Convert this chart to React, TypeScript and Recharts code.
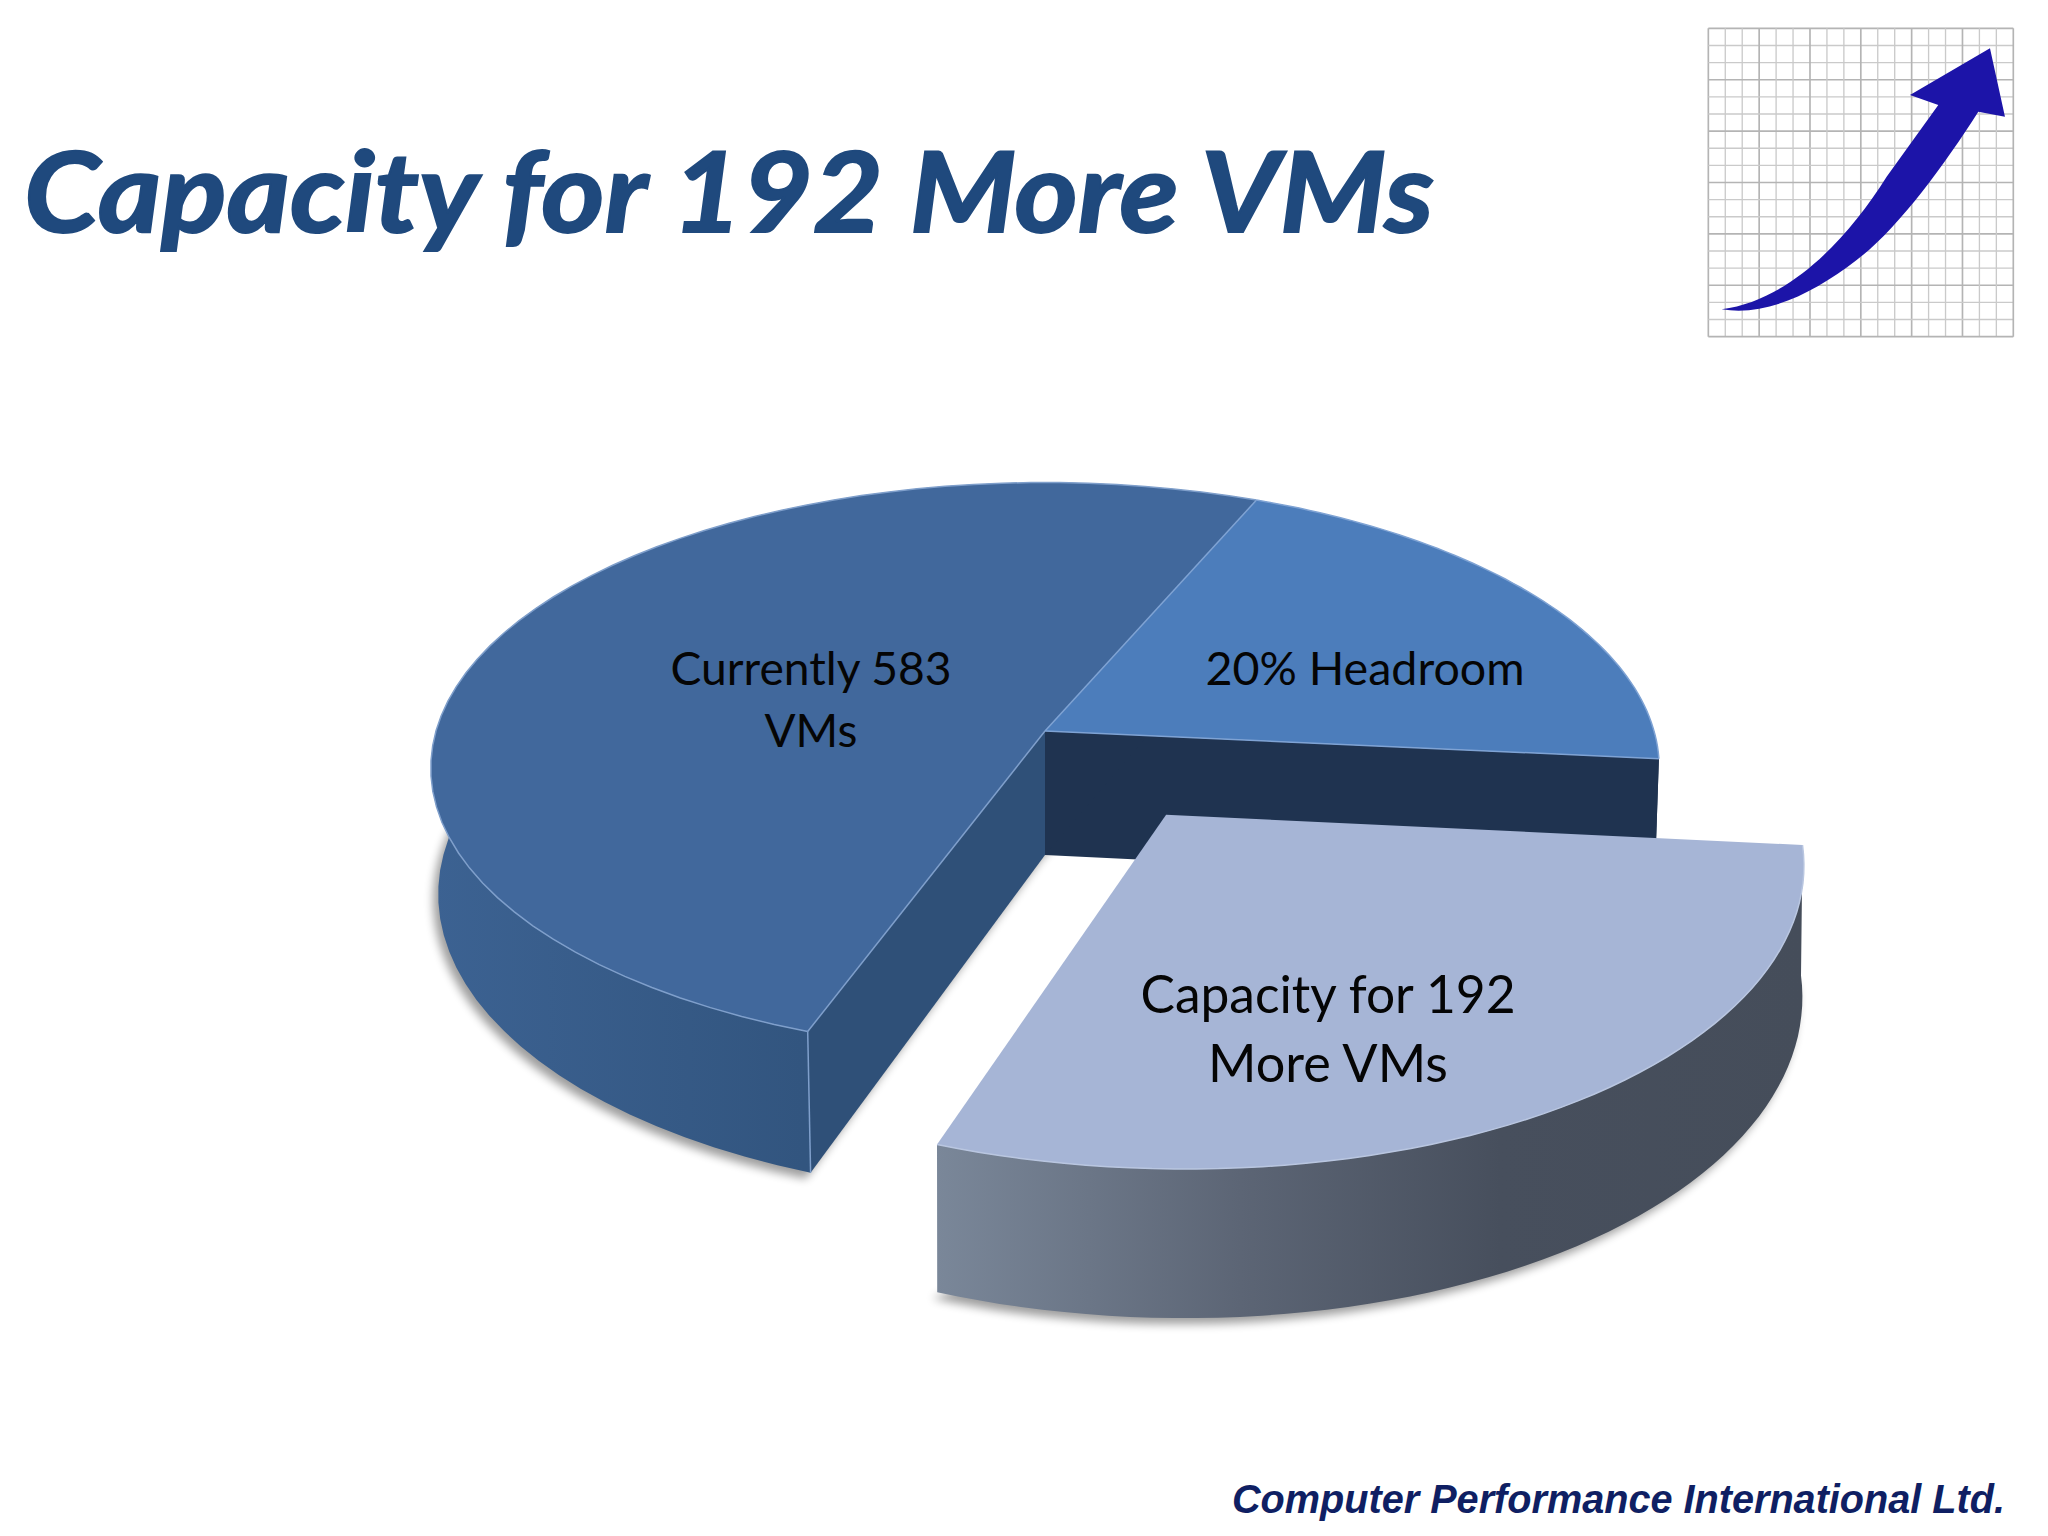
import { Pie, PieChart } from "recharts";

// values as drawn in the picture (share of the pie, %), clockwise from the front edge
const sliceNames = ["Currently 583 VMs", "20% Headroom", "Capacity for 192 More VMs"];
const sliceValues = [50.8, 20.2, 29];
const labelLines = [["Currently 583", "VMs"], ["20% Headroom"], ["Capacity for 192", "More VMs"]];

const data = sliceNames.map((name, i) => ({ name, value: sliceValues[i], index: i }));

// pie look
const SQUASH = 0.461;
const PERSPECTIVE = 0.13;
const DEPTH = 124;
const STEPS = 60;
const looks = [
  { top: "#41689C", wall: "url(#wallCurrent)", inner: "#2F5078", edge: "#7F9FCB", explode: 0, turn: 0, scale: 1, spread: 1, narrow: 0.988 },
  { top: "#4C7DBB", wall: "#1F3350", inner: "#1F3350", edge: "#7FA3D4", explode: 0, turn: 0, scale: 1, spread: 1, narrow: 0.993 },
  { top: "#A6B5D6", wall: "url(#wallCapacity)", inner: "", edge: "#B9C6E0", explode: 0.345, turn: -1.5, scale: 1.01, spread: 0.985, narrow: 0.998 },
];
const labelLayout = [
  { x: 811, y: 685, size: 47, gap: 62, widths: [281, 93] },
  { x: 1365, y: 685, size: 47, gap: 62, widths: [319] },
  { x: 1328, y: 1013, size: 52, gap: 69, widths: [375, 240] },
];

const FONT = "Lato, 'Open Sans', sans-serif";

function Slice3D(props: any) {
  const { cx, cy, outerRadius: R, startAngle, endAngle } = props;
  const i = props.payload?.index ?? props.index ?? 0;
  const look = looks[i];
  const a0 = 90 - startAngle;
  const a1 = 90 - endAngle;
  const mid = (((a0 + a1) / 2 + look.turn) * Math.PI) / 180;
  const ox = Math.sin(mid) * look.explode;
  const oy = Math.cos(mid) * look.explode;

  const top = (deg: number, r: number) => {
    const t = (deg * Math.PI) / 180;
    const u = r * look.scale * look.spread * Math.sin(t) + ox;
    const v = r * look.scale * Math.cos(t) + oy;
    const w = 1 + PERSPECTIVE * v;
    return { x: cx + (R * u) / w, y: cy - (R * SQUASH * v) / w, w };
  };
  const low = (p: { x: number; y: number; w: number }) => ({
    x: cx + (p.x - cx) * look.narrow,
    y: p.y + DEPTH / p.w,
    w: p.w,
  });
  const d = (pts: { x: number; y: number }[], close = true) =>
    "M" + pts.map((p) => `${p.x.toFixed(1)} ${p.y.toFixed(1)}`).join("L") + (close ? "Z" : "");

  const arc: ReturnType<typeof top>[] = [];
  for (let s = 0; s <= STEPS; s++) arc.push(top(a0 + ((a1 - a0) * s) / STEPS, 1));
  const apex = top(0, 0);
  const face = [apex, ...arc];
  const wall = [...arc, ...arc.slice().reverse().map(low)];
  const first = arc[0];
  const last = arc[arc.length - 1];
  const innerStart = [apex, first, low(first), low(apex)];
  const innerEnd = [apex, last, low(last), low(apex)];
  const shadow = i === 2 ? arc.map(low) : [...arc.map(low), low(apex)];

  return (
    <g>
      {i !== 1 && <path d={d(shadow)} fill="#000" opacity={0.38} filter="url(#softShadow)" transform="translate(-5 6)" />}
      <path d={d(wall)} fill={look.wall} />
      {look.inner && <path d={d(innerEnd)} fill={look.inner} />}
      {look.inner && <path d={d(innerStart)} fill={look.inner} />}
      <path d={d(face)} fill={look.top} />
      <path d={d(arc, false)} fill="none" stroke={look.edge} strokeWidth={1.5} />
      {i !== 2 && <path d={d([apex, first], false)} fill="none" stroke={look.edge} strokeWidth={1.5} />}
      {i === 0 && <path d={d([first, low(first)], false)} fill="none" stroke={look.edge} strokeWidth={1.5} />}
      {i === 1 && <path d={d([apex, last], false)} fill="none" stroke={look.edge} strokeWidth={1.5} />}
    </g>
  );
}

function SliceLabel(props: any) {
  const i = props.payload?.index ?? props.index ?? 0;
  const layout = labelLayout[i];
  return (
    <g>
      {labelLines[i].map((line, n) => (
        <text
          key={line}
          x={layout.x}
          y={layout.y + n * layout.gap}
          textAnchor="middle"
          fontFamily={FONT}
          fontSize={layout.size}
          fill="#050505"
          textLength={layout.widths[n]}
          lengthAdjust="spacingAndGlyphs"
        >
          {line}
        </text>
      ))}
    </g>
  );
}

const gridLines = Array.from({ length: 19 }, (_, n) => n);

function GrowthIcon() {
  return (
    <g transform="translate(1680 0) scale(0.3333)">
      <rect x={85} y={85} width={915} height={925} fill="#fff" />
      {gridLines.map((n) => {
        const major = n % 3 === 0;
        return (
          <g key={n} stroke={major ? "#b4b4b4" : "#cacaca"} strokeWidth={major ? 5 : 4}>
            <line x1={85 + (n * 915) / 18} x2={85 + (n * 915) / 18} y1={85} y2={1010} />
            <line x1={85} x2={1000} y1={85 + (n * 925) / 18} y2={85 + (n * 925) / 18} />
          </g>
        );
      })}
      <path
        d="M125 928 C330 900 500 720 620 530 L775 315 L690 285 L930 145 L975 350 L895 335 C790 500 650 690 530 780 C400 880 260 950 125 928 Z"
        fill="#1C14A8"
      />
    </g>
  );
}

export default function App() {
  return (
    <div style={{ position: "absolute", left: 0, top: 0, width: 2048, height: 1536, background: "#fff", overflow: "hidden" }}>
      <svg width={2048} height={1536} style={{ position: "absolute", left: 0, top: 0 }}>
        <text
          x={24}
          y={232}
          fontFamily={FONT}
          fontWeight={700}
          fontStyle="italic"
          fontSize={112}
          fill="#1F497D"
          stroke="#1F497D"
          strokeWidth={2}
          textLength={1410}
          lengthAdjust="spacingAndGlyphs"
        >
          Capacity for 192 More VMs
        </text>
        <text
          x={1232}
          y={1513}
          fontFamily="'Liberation Sans', Arial, sans-serif"
          fontWeight={700}
          fontStyle="italic"
          fontSize={41}
          fill="#0F1F63"
          textLength={773}
          lengthAdjust="spacingAndGlyphs"
        >
          Computer Performance International Ltd.
        </text>
        <GrowthIcon />
      </svg>
      <div style={{ position: "absolute", left: 0, top: 0 }}>
        <PieChart width={2048} height={1536} margin={{ top: 0, right: 0, bottom: 0, left: 0 }}>
          <defs>
            <linearGradient id="wallCurrent" x1="0" y1="0" x2="1" y2="0">
              <stop offset="0%" stopColor="#3C6292" />
              <stop offset="45%" stopColor="#32557F" />
              <stop offset="100%" stopColor="#2F4F78" />
            </linearGradient>
            <linearGradient id="wallCapacity" x1="0" y1="0" x2="1" y2="0">
              <stop offset="0%" stopColor="#7A8799" />
              <stop offset="35%" stopColor="#5C6575" />
              <stop offset="65%" stopColor="#474F5D" />
              <stop offset="100%" stopColor="#454D5A" />
            </linearGradient>
            <filter id="softShadow" x="-10%" y="-10%" width="120%" height="120%">
              <feGaussianBlur stdDeviation="5" />
            </filter>
          </defs>
          <Pie
            data={data}
            dataKey="value"
            nameKey="name"
            cx={1045}
            cy={731}
            outerRadius={609}
            startAngle={-110}
            endAngle={-470}
            stroke="none"
            shape={Slice3D}
            inactiveShape={Slice3D}
            label={SliceLabel}
            labelLine={false}
            isAnimationActive={false}
          />
        </PieChart>
      </div>
    </div>
  );
}
